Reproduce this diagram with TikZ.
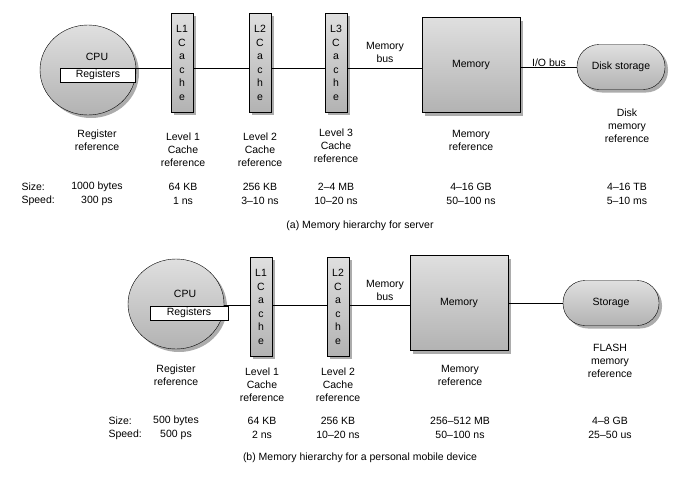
\documentclass[tikz,border=0pt]{standalone}
\usepackage{fontspec}
\setmainfont{Liberation Sans}
\usetikzlibrary{shadows,shapes.geometric}
\tikzset{
  box/.style={draw, top color=gray!25, bottom color=gray!60, drop shadow={shadow xshift=3pt, shadow yshift=-3pt, fill=gray!70!black}},
  cache/.style={box, minimum width=22pt, minimum height=99pt, align=center, font=\fontsize{10.5}{13.5}\selectfont, inner sep=1pt, anchor=north},
  lbl/.style={align=center, font=\fontsize{10.5}{13}\selectfont},
}
\begin{document}
\begin{tikzpicture}[x=1pt,y=-1pt]
    \useasboundingbox (0,0) rectangle (692,479);
    % (a) server
    \node[box, ellipse, minimum width=96pt, minimum height=90pt] (cpu1) at (88,70) {};
    \node[lbl] (cpu1t) at (97,57) {CPU};
    \node[draw, fill=white, minimum width=75pt, minimum height=14pt, inner sep=0pt, lbl] (reg1) at (98,75) {Registers};
    \node[cache] (l11) at (182,13) {L1\\C\\a\\c\\h\\e};
    \node[cache] (l21) at (260,13) {L2\\C\\a\\c\\h\\e};
    \node[cache] (l31) at (336,13) {L3\\C\\a\\c\\h\\e};
    \node[box, minimum width=98pt, minimum height=95pt, lbl] (mem1) at (471,65) {Memory};
    \node[box, rounded corners=22pt, minimum width=88pt, minimum height=45pt, lbl] (disk1) at (621,67) {Disk storage};
    \node[lbl] (bus1) at (385,52) {Memory\\bus};
    \node[lbl] (io1) at (549,63) {I/O bus};
    \draw (cpu1.east |- 0,68) -- (l11.west |- 0,68);
    \draw (l11.east |- 0,68) -- (l21.west |- 0,68);
    \draw (l21.east |- 0,68) -- (l31.west |- 0,68);
    \draw (l31.east |- 0,68) -- (mem1.west |- 0,68);
    \draw (mem1.east |- 0,67) -- (disk1.west);
    \node[lbl] (r1) at (97,140) {Register\\reference};
    \node[lbl] (r2) at (183,150) {Level 1\\Cache\\reference};
    \node[lbl] (r3) at (260,150) {Level 2\\Cache\\reference};
    \node[lbl] (r4) at (336,146) {Level 3\\Cache\\reference};
    \node[lbl] (r5) at (471,140) {Memory\\reference};
    \node[lbl] (r6) at (627,126) {Disk\\memory\\reference};
    \node[lbl, anchor=west] (sz1) at (18,187) {Size:};
    \node[lbl, anchor=west] (sp1) at (18,201) {Speed:};
    \foreach \x/\s/\t in {97/1000 bytes/300 ps, 183/64 KB/1 ns, 260/256 KB/3--10 ns, 336/2--4 MB/10--20 ns, 471/4--16 GB/50--100 ns, 627/4--16 TB/5--10 ms}{
      \node[lbl] at (\x,187) {\s};
      \node[lbl] at (\x,201) {\t};
    }
    \node[lbl] (cap1) at (360,226) {(a) Memory hierarchy for server};
    % (b) personal mobile device
    \node[box, ellipse, minimum width=96pt, minimum height=90pt] (cpu2) at (176,304) {};
    \node[lbl] (cpu2t) at (185,294) {CPU};
    \node[draw, fill=white, minimum width=78pt, minimum height=14pt, inner sep=0pt, lbl] (reg2) at (189,313) {Registers};
    \node[cache] (l12) at (261,257) {L1\\C\\a\\c\\h\\e};
    \node[cache] (l22) at (338,257) {L2\\C\\a\\c\\h\\e};
    \node[box, minimum width=98pt, minimum height=95pt, lbl] (mem2) at (459,303) {Memory};
    \node[box, rounded corners=22pt, minimum width=96pt, minimum height=45pt, lbl] (disk2) at (611,303) {Storage};
    \node[lbl] (bus2) at (385,290) {Memory\\bus};
    \draw (cpu2.east |- 0,305) -- (l12.west |- 0,305);
    \draw (l12.east |- 0,305) -- (l22.west |- 0,305);
    \draw (l22.east |- 0,305) -- (mem2.west |- 0,305);
    \draw (mem2.east |- 0,303) -- (disk2.west);
    \node[lbl] (q1) at (176,375) {Register\\reference};
    \node[lbl] (q2) at (262,385) {Level 1\\Cache\\reference};
    \node[lbl] (q3) at (338,385) {Level 2\\Cache\\reference};
    \node[lbl] (q4) at (460,375) {Memory\\reference};
    \node[lbl] (q5) at (610,361) {FLASH\\memory\\reference};
    \node[lbl, anchor=west] (sz2) at (105,421) {Size:};
    \node[lbl, anchor=west] (sp2) at (105,435) {Speed:};
    \foreach \x/\s/\t in {176/500 bytes/500 ps, 262/64 KB/2 ns, 338/256 KB/10--20 ns, 460/256--512 MB/50--100 ns, 610/4--8 GB/25--50 us}{
      \node[lbl] at (\x,421) {\s};
      \node[lbl] at (\x,435) {\t};
    }
    \node[lbl] (cap2) at (360,458) {(b) Memory hierarchy for a personal mobile device};
\end{tikzpicture}
\end{document}
